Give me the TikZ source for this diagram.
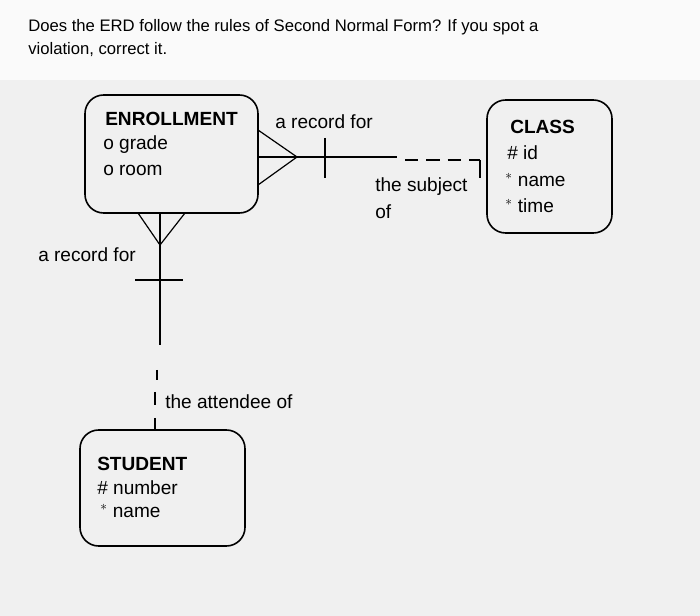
\documentclass[tikz,border=0pt]{standalone}
\usepackage{fontspec}
\setmainfont{Liberation Sans}
\begin{document}
\begin{tikzpicture}[x=0.75pt,y=-0.75pt,
  ent/.style={draw,line width=1.2pt,rounded corners=14pt},
  lbl/.style={anchor=west,inner sep=0pt,font=\fontsize{14.3}{16}\selectfont},
  rel/.style={line width=0.9pt}]
\fill[gray!12] (0,0) rectangle (700,616);
\fill[white!96!gray] (0,0) rectangle (700,80);
\useasboundingbox (0,0) rectangle (700,616);
\node[lbl,font=\fontsize{12.5}{14}\selectfont] (q1) at (28,27) {Does the ERD follow the rules of Second Normal Form? If you spot a};
\node[lbl,font=\fontsize{12.5}{14}\selectfont] (q2) at (28,50) {violation, correct it.};
% boxes
\draw[ent] (85,95) rectangle (258,213);
\coordinate (enr) at (258,157);
\node[lbl,font=\bfseries\fontsize{14.3}{16}\selectfont] (e1) at (105,119) {ENROLLMENT};
\node[lbl] (e2) at (103,145) {o grade};
\node[lbl] (e3) at (103,170) {o room};
\draw[ent] (487,100) rectangle (612,233);
\node[lbl,font=\bfseries\fontsize{14.3}{16}\selectfont] (c1) at (510,127) {CLASS};
\node[lbl] (c2) at (507,153) {\# id};
\node[lbl] (c3) at (505,180) {$^*$ name};
\node[lbl] (c4) at (505,206) {$^*$ time};
\draw[ent] (80,430) rectangle (245,546);
\node[lbl,font=\bfseries\fontsize{14.3}{16}\selectfont] (s1) at (97,464) {STUDENT};
\node[lbl] (s2) at (97,488) {\# number};
\node[lbl] (s3) at (100,511) {$^*$ name};
% labels
\node[lbl] (l1) at (275,122) {a record for};
\node[lbl] (l2) at (375,187) {the subject};
\node[lbl] (l3) at (375,212) {of};
\node[lbl] (l4) at (38,255) {a record for};
\node[lbl] (l5) at (165,402) {the attendee of};
% enrollment-class relation
\coordinate (cf1) at (297,157);
\coordinate (mid1) at (397,157);
\coordinate (cls) at (480,160);
\draw[rel] (258,130) -- (cf1) -- (258,185);
\draw[rel] (enr) -- (mid1);
\draw[rel] (325,138) -- (325,178);
\draw[rel,dashed,dash pattern=on 10pt off 6pt] (405,160) -- (cls);
\draw[rel] (cls) -- (480,178);
% enrollment-student relation
\coordinate (cf2) at (160,245);
\coordinate (mid2) at (160,345);
\draw[rel] (138,213) -- (cf2) -- (185,213);
\draw[rel] (160,213) -- (mid2);
\draw[rel] (135,280) -- (183,280);
\draw[rel] (157,370) -- (157,380);
\draw[rel] (155,392) -- (155,405);
\draw[rel] (155,418) -- (155,430);
\end{tikzpicture}
\end{document}
